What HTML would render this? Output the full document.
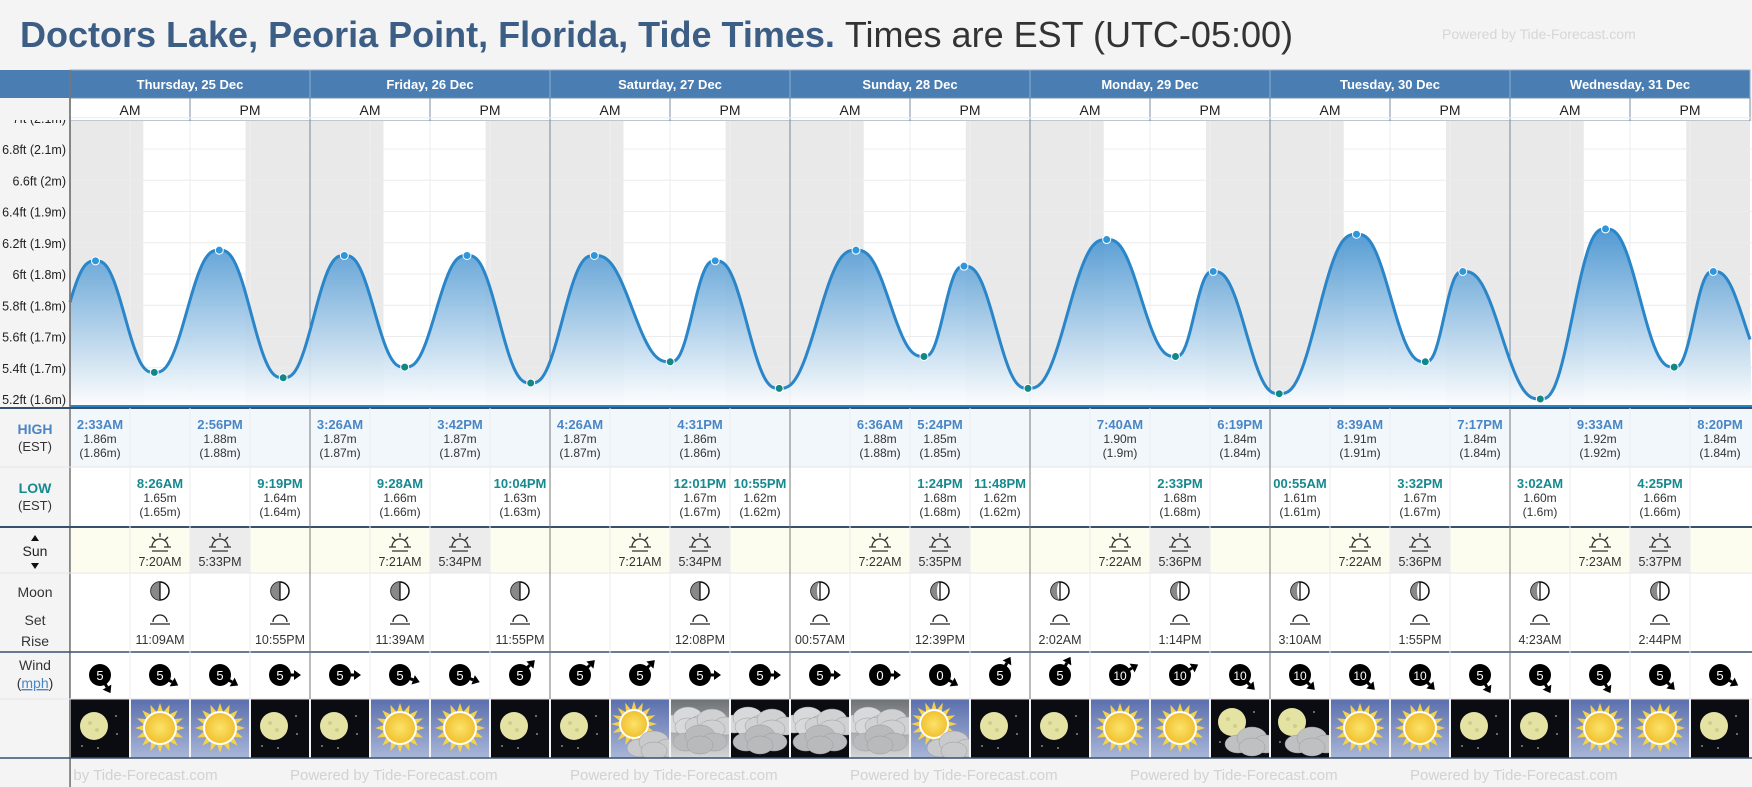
<!DOCTYPE html>
<html><head><meta charset="utf-8">
<style>
html,body{margin:0;padding:0;background:#f4f4f4;}
svg{display:block;font-family:"Liberation Sans",sans-serif;}
</style></head>
<body>
<svg id="c" width="1752" height="787" viewBox="0 0 1752 787" xmlns="http://www.w3.org/2000/svg">
<defs>
<linearGradient id="fillg" x1="0" y1="0" x2="0" y2="1"><stop offset="0" stop-color="#3f8fce"/><stop offset="1" stop-color="#ffffff"/></linearGradient>
<linearGradient id="dayg" x1="0" y1="0" x2="0" y2="1"><stop offset="0" stop-color="#5a6fad"/><stop offset="1" stop-color="#a9b6d8"/></linearGradient>
<linearGradient id="cloudyg" x1="0" y1="0" x2="0" y2="1"><stop offset="0" stop-color="#6d7173"/><stop offset="1" stop-color="#d5d6d8"/></linearGradient>
<radialGradient id="sung"><stop offset="0" stop-color="#fbe36a"/><stop offset="1" stop-color="#f1c232"/></radialGradient>
</defs>
<rect x="0" y="0" width="1752" height="787" fill="#f4f4f4"/>
<text x="20" y="47" font-size="36" font-weight="bold" fill="#3c5d84">Doctors Lake, Peoria Point, Florida, Tide Times.<tspan font-weight="normal" fill="#333" dx="10">Times are EST (UTC-05:00)</tspan></text>
<text x="1442" y="39" font-size="14" fill="#d6d6d6">Powered by Tide-Forecast.com</text>
<g id="g"></g>
</svg>
<script>
const days=["Thursday, 25 Dec","Friday, 26 Dec","Saturday, 27 Dec","Sunday, 28 Dec","Monday, 29 Dec","Tuesday, 30 Dec","Wednesday, 31 Dec"];
const extTimes=[-3.5,2.55,8.43,14.93,21.32,27.43,33.47,39.7,46.07,52.43,60.02,64.52,70.92,78.6,85.4,89.4,95.8,103.67,110.55,114.32,120.92,128.65,135.53,139.28,147.03,153.55,160.42,164.33,170.5];
const extHeights=[1.64,1.86,1.65,1.88,1.64,1.87,1.66,1.87,1.63,1.87,1.67,1.86,1.62,1.88,1.68,1.85,1.62,1.90,1.68,1.84,1.61,1.91,1.67,1.84,1.60,1.92,1.66,1.84,1.65];
const extLabels=["","2:33AM","8:26AM","2:56PM","9:19PM","3:26AM","9:28AM","3:42PM","10:04PM","4:26AM","12:01PM","4:31PM","10:55PM","6:36AM","1:24PM","5:24PM","11:48PM","7:40AM","2:33PM","6:19PM","00:55AM","8:39AM","3:32PM","7:17PM","3:02AM","9:33AM","4:25PM","8:20PM",""];
const tickFt=[5.2,5.4,5.6,5.8,6,6.2,6.4,6.6,6.8,7];
const tickLabels=["5.2ft (1.6m)","5.4ft (1.7m)","5.6ft (1.7m)","5.8ft (1.8m)","6ft (1.8m)","6.2ft (1.9m)","6.4ft (1.9m)","6.6ft (2m)","6.8ft (2.1m)","7ft (2.1m)"];
const sunRise=["7:20AM","7:21AM","7:21AM","7:22AM","7:22AM","7:22AM","7:23AM"];
const sunSet=["5:33PM","5:34PM","5:34PM","5:35PM","5:36PM","5:36PM","5:37PM"];
const moonCol=[[1,3],[1,3],[2],[0,2],[0,2],[0,2],[0,2]];
const moonTimes=[["11:09AM","10:55PM"],["11:39AM","11:55PM"],["12:08PM"],["00:57AM","12:39PM"],["2:02AM","1:14PM"],["3:10AM","1:55PM"],["4:23AM","2:44PM"]];
const windSpeed=[5,5,5,5,5,5,5,5,5,5,5,5,5,0,0,5,5,10,10,10,10,10,10,5,5,5,5,5];
const windDir=[60,30,30,0,0,20,20,-45,-45,-45,0,0,0,0,30,-60,-60,-30,-30,45,45,45,45,60,60,60,45,30];
const weather=["moon","sun","sun","moon","moon","sun","sun","moon","moon","suncloud","cloudday","cloudnight","cloudnight","cloudday","suncloud","moon","moon","sun","sun","mooncloud","mooncloud","sun","sun","moon","moon","sun","sun","moon"];

const X0=70,DW=240,CT=121,CB=406;
const xT=h=>X0+h*DW/24;
const yM=m=>407-(m/0.3048-5.2)*162;
const yF=f=>399-(f-5.2)*156.25;
const g=document.getElementById('g');
const NS="http://www.w3.org/2000/svg";
function mk(tag,at,parent){const e=document.createElementNS(NS,tag);for(const k in at)e.setAttribute(k,at[k]);(parent||g).appendChild(e);return e;}
function tx(x,y,s,size,fill,weight,anchor){const e=mk('text',{x:x,y:y,'font-size':size,fill:fill,'font-weight':weight||'normal','text-anchor':anchor||'middle'});e.textContent=s;return e;}

let e=mk('rect',{x:0,y:70,width:X0,height:688,fill:'#f4f4f4'});

for(let d=0;d<7;d++){
  const x=X0+d*DW;
  e=mk('rect',{x:x,y:70,width:DW,height:28,fill:'#4a7db2',stroke:'#8fb0d0','stroke-width':1});
  
  e=tx(x+DW/2,89,days[d],13,'#fff','bold');
  
  for(let k=0;k<2;k++){
    e=mk('rect',{x:x+k*120,y:98,width:120,height:23,fill:'#fff',stroke:'#7b8fa3','stroke-width':1});
    
    e=tx(x+k*120+60,115,k?'PM':'AM',14,'#222');
    
  }
}
e=mk('rect',{x:0,y:70,width:X0,height:28,fill:'#4a7db2'});

e=mk('rect',{x:X0,y:CT,width:1682,height:CB-CT,fill:'#fff'});

const riseH=[7.33,7.35,7.35,7.37,7.37,7.37,7.38],setH=[17.55,17.57,17.57,17.58,17.6,17.6,17.62];
for(let d=0;d<7;d++){
  e=mk('rect',{x:xT(d*24),y:CT,width:xT(riseH[d])-X0,height:CB-CT,fill:'#e9e9e9'});
  
  e=mk('rect',{x:xT(d*24+setH[d]),y:CT,width:xT(24-setH[d])-X0,height:CB-CT,fill:'#e9e9e9'});
  
}
for(let i=0;i<tickFt.length;i++){
  const y=yF(tickFt[i]);
  e=mk('line',{x1:X0,x2:1752,y1:y,y2:y,stroke:'#ececec','stroke-width':1});
  
  e=tx(66,y+5,tickLabels[i],12.5,'#222','normal','end');
  
}
for(let q=1;q<28;q++){
  e=mk('line',{x1:X0+q*60,x2:X0+q*60,y1:CT,y2:CB,stroke:q%4==0?'#6f8aa3':'#eeeeee','stroke-width':1});
  
}
// mask overflowing top tick label
e=mk('rect',{x:0,y:98,width:X0,height:22,fill:'#f4f4f4'});
let pts=[];
for(let h=0;h<=168;h+=0.2){
  let i=0;while(i<extTimes.length-2&&extTimes[i+1]<h)i++;
  const t0=extTimes[i],t1=extTimes[i+1],f=(h-t0)/(t1-t0);
  const s=f*f*f*(f*(f*6-15)+10);
  const m=extHeights[i]+(extHeights[i+1]-extHeights[i])*s;
  pts.push([xT(h),yM(m)]);
}
const ps=pts.map(p=>p[0].toFixed(1)+','+p[1].toFixed(1)).join(' L');
e=mk('path',{d:'M'+X0+','+CB+' L'+ps+' L1752,'+CB+' Z',fill:'url(#fillg)',opacity:0.9});

e=mk('path',{d:'M'+ps,fill:'none',stroke:'#2a86c8','stroke-width':3});

for(let i=1;i<extTimes.length-1;i++){
  const hi=extHeights[i]>1.75;
  e=mk('circle',{cx:xT(extTimes[i]),cy:yM(extHeights[i]),r:4,fill:hi?'#2e97dc':'#118888',stroke:'#fff','stroke-width':1});
  
}
e=mk('line',{x1:X0,x2:X0,y1:70,y2:787,stroke:'#777','stroke-width':1.5});

e=mk('line',{x1:X0,x2:1752,y1:CB,y2:CB,stroke:'#2a86c8','stroke-width':2});


e=mk('rect',{x:0,y:408,width:1752,height:59,fill:'#f2f7fc'});

e=mk('rect',{x:X0,y:467,width:1682,height:59,fill:'#fff'});

e=mk('rect',{x:0,y:467,width:X0,height:59,fill:'#f4f4f4'});
e=mk('rect',{x:0,y:408,width:X0,height:59,fill:'#f4f4f4'});
e=tx(35,434,'HIGH',14,'#4a86c5','bold');
e=tx(35,451,'(EST)',13,'#333');
e=tx(35,493,'LOW',14,'#16898f','bold');
e=tx(35,510,'(EST)',13,'#333');
for(let i=1;i<extTimes.length-1;i++){
  const hi=extHeights[i]>1.75, col=Math.floor(extTimes[i]/6), cx=X0+col*60+30, y0=hi?429:488;
  e=tx(cx,y0,extLabels[i],13,hi?'#4a86c5':'#16898f','bold');
  
  e=tx(cx,y0+14,extHeights[i].toFixed(2)+'m',12,'#333');
  
  const r=Math.round(extHeights[i]*100)/100;
  e=tx(cx,y0+28,'('+(Math.round(r*100)%10==0?r.toFixed(1):r.toFixed(2))+'m)',12,'#333');
  
}
e=mk('rect',{x:X0,y:527,width:1682,height:46,fill:'#fdfdef'});

e=tx(35,556,'Sun',14,'#222');
mk('path',{d:'M31,541 L39,541 L35,535Z M31,563 L39,563 L35,569Z',fill:'#111'});
function sunIcon(cx,cy){
  mk('path',{d:`M${cx-8},${cy+4} A8,8 0 0 1 ${cx+8},${cy+4} M${cx-11},${cy+4}L${cx-4},${cy+4} M${cx+4},${cy+4}L${cx+11},${cy+4} M${cx-8},${cy+8}L${cx+8},${cy+8} M${cx},${cy-10}L${cx},${cy-6} M${cx-8},${cy-6}L${cx-5},${cy-3} M${cx+8},${cy-6}L${cx+5},${cy-3}`,fill:'none',stroke:'#333','stroke-width':1.3});
}
for(let d=0;d<7;d++){
  const x=X0+d*DW;
  e=mk('rect',{x:x+120,y:527,width:60,height:46,fill:'#ececec'});
  
  sunIcon(x+90,543);sunIcon(x+150,543);
  e=tx(x+90,566,sunRise[d],12.5,'#333');
  e=tx(x+150,566,sunSet[d],12.5,'#333');
}
e=mk('rect',{x:X0,y:573,width:1682,height:79,fill:'#fff'});

e=tx(35,597,'Moon',14,'#333');
e=tx(35,625,'Set',14,'#333');
e=tx(35,646,'Rise',14,'#333');
for(let d=0;d<7;d++){
  moonCol[d].forEach((c,j)=>{
    const cx=X0+d*DW+c*60+30, left=d<3;
    e=mk('circle',{cx:cx,cy:591,r:9,fill:'#fff',stroke:'#111','stroke-width':1.5});
    
    mk('path',{d:left?`M${cx},582 A9,9 0 0 0 ${cx},600Z`:`M${cx},582 A9,9 0 0 0 ${cx},600 A3,9 0 0 1 ${cx},582Z`,fill:'#888'});
    mk('line',{x1:cx,x2:cx,y1:582,y2:600,stroke:'#111','stroke-width':1.3});
    mk('path',{d:`M${cx-7},622 A7,7 0 0 1 ${cx+7},622 M${cx-10},624 L${cx+10},624`,fill:'none',stroke:'#222','stroke-width':1.3});
    e=tx(cx,644,moonTimes[d][j],12.5,'#333');
    
  });
}
e=mk('rect',{x:X0,y:652,width:1682,height:47,fill:'#fff'});

e=tx(35,670,'Wind',14,'#333');
const t=mk('text',{x:35,y:688,'font-size':14,fill:'#333','text-anchor':'middle'});
t.innerHTML='(<tspan fill="#4a86c5" text-decoration="underline">mph</tspan>)';

for(let i=0;i<28;i++){
  const cx=X0+i*60+30, cy=675, a=windDir[i]*Math.PI/180;
  const ex=cx+Math.cos(a)*14, ey=cy+Math.sin(a)*14;
  mk('line',{x1:cx,y1:cy,x2:ex,y2:ey,stroke:'#000','stroke-width':3});
  mk('polygon',{points:`${ex+Math.cos(a)*7},${ey+Math.sin(a)*7} ${ex+Math.cos(a+1.57)*5},${ey+Math.sin(a+1.57)*5} ${ex+Math.cos(a-1.57)*5},${ey+Math.sin(a-1.57)*5}`,fill:'#000'});
  e=mk('circle',{cx:cx,cy:cy,r:11,fill:'#000'});
  
  e=tx(cx,cy+5,String(windSpeed[i]),windSpeed[i]>9?12:13,'#fff');
  
}
function moon(p,cx,cy){mk('circle',{cx:cx,cy:cy,r:14,fill:'#e4e3a4'},p);mk('circle',{cx:cx-4,cy:cy-3,r:2,fill:'#cfcd8a'},p);mk('circle',{cx:cx+3,cy:cy+4,r:2,fill:'#cfcd8a'},p);
  [[22,-10],[23,8],[-12,20],[4,22]].forEach(q=>mk('circle',{cx:cx+q[0],cy:cy+q[1],r:1,fill:'#888'},p));}
function sun(p,cx,cy,r){for(let k=0;k<16;k++){const a=k*Math.PI/8;mk('polygon',{points:`${cx+Math.cos(a)*(r+10)},${cy+Math.sin(a)*(r+10)} ${cx+Math.cos(a+0.2)*(r+1)},${cy+Math.sin(a+0.2)*(r+1)} ${cx+Math.cos(a-0.2)*(r+1)},${cy+Math.sin(a-0.2)*(r+1)}`,fill:'#f4d24a'},p);}
  mk('circle',{cx:cx,cy:cy,r:r+2,fill:'#fff'},p);mk('circle',{cx:cx,cy:cy,r:r,fill:'url(#sung)'},p);}
function cloud(p,cx,cy,c){[[-14,4,9],[0,-2,11],[14,4,9],[0,7,9]].forEach(q=>mk('ellipse',{cx:cx+q[0],cy:cy+q[1],rx:q[2]+4,ry:q[2],fill:c,stroke:'#9a9b9e','stroke-width':0.5},p));}
const defs=document.querySelector('defs');
for(let i=0;i<28;i++){
  const x=X0+i*60, w=weather[i], day=(w=='sun'||w=='suncloud'||w=='cloudday');
  const cp=mk('clipPath',{id:'cp'+i},defs);mk('rect',{x:x+1,y:699,width:58,height:59},cp);
  const grp=mk('g',{'clip-path':'url(#cp'+i+')'});
  
  
  mk('rect',{x:x+1,y:699,width:58,height:59,fill:w=='cloudday'?'url(#cloudyg)':day?'url(#dayg)':'#0b0c12'},grp);
  const cx=x+30,cy=728;
  if(w=='moon')moon(grp,cx-6,cy-2);
  if(w=='sun')sun(grp,cx,cy,15);
  if(w=='suncloud'){sun(grp,cx-6,cy-4,13);cloud(grp,cx+14,cy+16,'#c9cacc');}
  if(w=='cloudday'||w=='cloudnight'){cloud(grp,cx-12,cy-8,'#d8d9db');cloud(grp,cx+12,cy-6,'#d0d1d3');cloud(grp,cx,cy+10,'#b9babc');}
  if(w=='mooncloud'){moon(grp,cx-8,cy-6);cloud(grp,cx+12,cy+12,'#bfc0c2');}
}
for(let k=0;k<6;k++){
  e=tx(X0-60+k*280,780,'Powered by Tide-Forecast.com',15,'#d2d2d2','normal','start');
  
}
e=mk('rect',{x:0,y:759,width:X0,height:28,fill:'#f4f4f4'});
e=mk('line',{x1:X0,x2:X0,y1:70,y2:787,stroke:'#777','stroke-width':1.5});
[[408,'#36506e',2],[467,'#e6e6e6',1],[527,'#36506e',2],[573,'#e6e6e6',1],[652,'#36506e',1.5],[699,'#e6e6e6',1],[758,'#36506e',1.5]].forEach(r=>{
  e=mk('line',{x1:0,x2:1752,y1:r[0],y2:r[0],stroke:r[1],'stroke-width':r[2]});
  
});
for(let q=1;q<28;q++){
  e=mk('line',{x1:X0+q*60,x2:X0+q*60,y1:408,y2:699,stroke:q%4==0?'#777':'#ececec','stroke-width':1});
  
}
</script>
</body></html>
